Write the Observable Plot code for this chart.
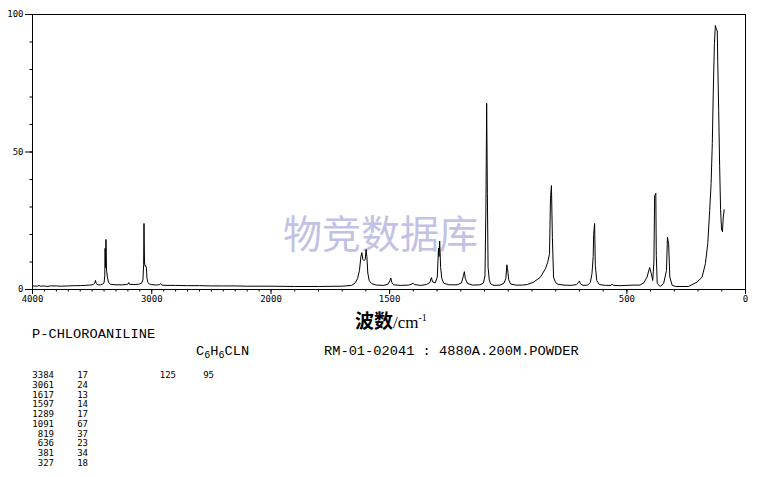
<!DOCTYPE html>
<html><head><meta charset="utf-8">
<script src="https://cdn.jsdelivr.net/npm/d3@7"></script>
<script src="https://cdn.jsdelivr.net/npm/@observablehq/plot@0.6"></script>
<style>
body{margin:0;background:#fff;}
#wrap{position:relative;width:761px;height:477px;overflow:hidden;background:#fff;}
.t{position:absolute;font-family:"Liberation Mono","DejaVu Sans Mono",monospace;color:#000;white-space:pre;line-height:1;}
.n{position:absolute;font-family:"DejaVu Sans Mono",monospace;font-size:9px;color:#000;white-space:pre;line-height:1;text-align:right;}
#wm{position:absolute;left:283px;top:212px;font-family:"Noto Sans CJK SC",sans-serif;font-size:39px;line-height:1;color:#c2c2e6;white-space:nowrap;}
#xl{position:absolute;left:355px;top:310px;line-height:1;white-space:nowrap;color:#000;}
svg{position:absolute;left:0;top:0;}
</style></head><body><div id="wrap"></div>
<script>
// Spectrum (Raman shift cm-1, intensity)
const wavenumbers = [4000,3960,3945,3935,3900,3880,3850,3800,3760,3700,3650,3600,3560,3520,3490,3478,3472,3466,3450,3430,3410,3400,3394,3391,3388,3384,3379,3372,3362,3345,3300,3250,3210,3198,3192,3186,3150,3110,3085,3074,3068,3065,3061,3056,3050,3045,3040,3032,3020,3000,2960,2935,2926,2915,2880,2800,2700,2600,2500,2400,2300,2200,2100,2000,
1900,1800,1700,1660,1645,1635,1627,1621,1617,1613,1608,1603,1599,1596,1592,1586,1575,1555,1525,1507,1499,1495,1491,1483,1455,1420,1406,1401,1396,1370,1345,1330,1324,1319,1308,1299,1294,1292,1289,1285,1280,1272,1250,1215,1197,1189,1185,1181,1172,1150,1120,1105,1098,1094,1091,1088,1085,1080,1074,1060,1035,1018,1010,1006,1003,998,990,968,940,920,895,865,843,834,826,822,818,814,809,800,790,765,735,712,704,700,696,685,665,654,647,642,640,636,633,627,616,590,567,562,557,530,500,470,445,428,415,404,397,391,386,383,378,376,372,359,345,333,329,324,319,309,295,240,225,204,183,169,159,151,145,140,136,131,127,124,119,117,113,109,105,101,97,94,90];
const intensities = [1.3,1.2,1.5,1.2,1.3,1.1,1.3,1.3,1.2,1.3,1.4,1.4,1.5,1.6,1.8,2.4,3.3,2.2,1.7,1.7,2.0,2.4,5,15,8,18.2,7,4.5,2.5,1.9,1.7,1.7,1.8,2.0,2.5,1.9,1.8,1.9,2.3,3.5,9,24,10,8.5,8.7,7.8,4,2.5,2,1.8,1.6,1.8,2.1,1.6,1.5,1.5,1.4,1.4,1.3,1.3,1.3,1.2,1.2,1.2,
1.1,1.1,1.2,1.5,2.4,4,7,12,13.4,11,10.5,11,14.5,12,6,3.2,2.1,1.6,1.5,1.9,3.2,4.2,2.6,1.7,1.5,1.6,2.0,2.3,1.8,1.5,1.8,2.6,4.3,2.8,2.4,4.5,15,12,17.6,8,4,2.3,1.7,1.7,2.4,5,6.5,4,2.2,1.6,1.7,2.3,5,31,67.7,35,8,3.5,2,1.5,1.6,2.3,4,9,7.6,3.5,2,1.6,1.6,1.8,2.6,4.4,7.6,9.8,13,33,37.8,19,4.4,2.5,1.9,1.6,1.5,1.8,2.6,3.1,2.1,1.5,1.6,2.6,5.8,12,20,24,8.7,3.3,1.8,1.5,1.5,2,1.5,1.4,1.5,1.6,1.6,2.5,4.5,8,5.8,3.3,10,34,35,12.4,2.2,1.1,2.2,6.9,19,16.7,4.5,1.5,1.1,1.1,1.8,2.7,4.5,9.4,16.7,28.7,38.5,53,71,89.5,96,95,94,83,65,45,29,22,21,26,29];

// Axis ticks
const xLabelTicks = [4000, 3000, 2000, 1500, 500, 0];
const xMinorTicks = d3.range(0, 4001, 100);
const yLabelTicks = [0, 50, 100];
const yMinorTicks = d3.range(0, 101, 10);

// Texts
const compoundName = "P-CHLOROANILINE";
const sampleInfo = "RM-01-02041 : 4880A.200M.POWDER";
const peakWavenumbers = ["3384","3061","1617","1597","1289","1091","819","636","381","327"];
const peakIntensities = ["17","24","13","14","17","67","37","23","34","18"];
const extraPeak = ["125", "95"];
const watermark = "物竞数据库";

const spectrum = wavenumbers.map((w, i) => ({wn: w, i: intensities[i]}));

const tickFont = {fontFamily: "DejaVu Sans Mono, monospace", fontSize: 9};

const chart = Plot.plot({
  width: 761, height: 305,
  marginLeft: 32, marginRight: 16, marginTop: 14, marginBottom: 16,
  style: {background: "transparent", overflow: "visible", color: "black"},
  x: {type: "linear", domain: [4000, 2000, 0], range: [32, 270.5, 745], label: null},
  y: {domain: [0, 100], range: [289, 14], label: null},
  marks: [
    Plot.frame({stroke: "black", strokeWidth: 1}),
    Plot.axisY(yMinorTicks, {tickSize: 2.5, tickFormat: () => "", label: null}),
    Plot.axisY(yLabelTicks, {tickSize: 7, tickFormat: () => "", label: null}),
    Plot.axisY(yLabelTicks, {tickSize: 0, tickPadding: 9, label: null, ...tickFont}),
    Plot.axisX(xMinorTicks, {tickSize: 2.5, tickFormat: () => "", label: null}),
    Plot.axisX(xLabelTicks, {tickSize: 5, tickFormat: () => "", label: null}),
    Plot.axisX(xLabelTicks, {tickSize: 0, tickPadding: 6, label: null, tickFormat: d => String(d), ...tickFont}),
    Plot.line(spectrum, {x: "wn", y: "i", stroke: "black", strokeWidth: 1})
  ]
});

const wrap = document.getElementById("wrap");
const wm = document.createElement("div");
wm.id = "wm"; wm.textContent = watermark;
wrap.appendChild(wm);
wrap.appendChild(chart);

const xl = document.createElement("div");
xl.id = "xl";
xl.innerHTML = '<span style="font-family:\'Noto Sans CJK SC\';font-size:19px;font-weight:bold;">波数</span>' +
  '<span style="font-family:\'Liberation Serif\',serif;font-size:17px;">/cm</span>' +
  '<span style="font-family:\'Liberation Serif\',serif;font-size:10px;position:relative;top:-7px;">-1</span>';
wrap.appendChild(xl);

function addText(cls, text, left, top, size, width) {
  const d = document.createElement("div");
  d.className = cls;
  d.textContent = text;
  d.style.left = left + "px";
  d.style.top = top + "px";
  if (size) d.style.fontSize = size + "px";
  if (width) d.style.width = width + "px";
  wrap.appendChild(d);
  return d;
}
addText("t", compoundName, 32, 328, 13.7);
const f = addText("t", "", 196, 345, 13.7);
f.innerHTML = 'C<span style="font-size:10px;position:relative;top:3px;">6</span>H<span style="font-size:10px;position:relative;top:3px;">6</span>CLN';
addText("t", sampleInfo, 324, 345, 13.7);

peakWavenumbers.forEach((w, k) => {
  const top = 371 + k * 9.78;
  addText("n", w, 14, top, null, 40);
  addText("n", peakIntensities[k], 58, top, null, 30);
});
addText("n", extraPeak[0], 136, 371, null, 40);
addText("n", extraPeak[1], 184, 371, null, 30);
</script>
</body></html>
